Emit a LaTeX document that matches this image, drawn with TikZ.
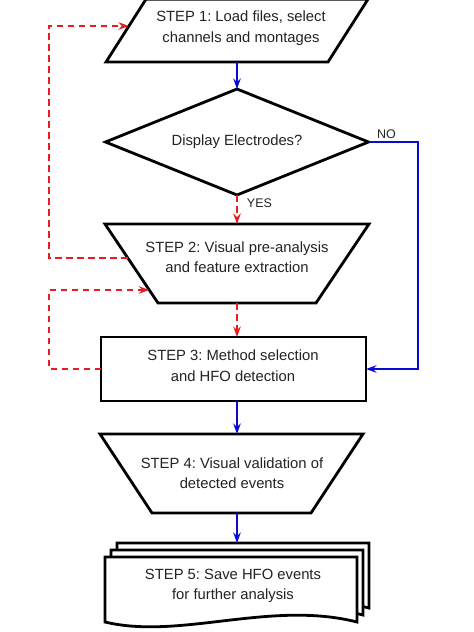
\documentclass[tikz,border=0pt]{standalone}
\usepackage{fontspec}
\setmainfont{Liberation Sans}
\frenchspacing
\usetikzlibrary{shapes.geometric,arrows.meta,calc}
\definecolor{flowred}{RGB}{232,28,32}
\definecolor{flowblue}{RGB}{10,10,215}
\definecolor{txt}{RGB}{35,35,35}
\tikzset{
  boxnode/.style={inner sep=0pt, outer sep=0pt, draw=none},
  txtnode/.style={inner sep=0pt, outer sep=0pt, align=center, text=txt, font=\fontsize{14.8}{20.5}\selectfont},
  outline/.style={draw=black, line width=2.8pt, line join=miter, fill=white},
  smalllabel/.style={inner sep=0pt, outer sep=0pt, text=txt, font=\fontsize{12.5}{14}\selectfont},
  bluearrow/.style={draw=flowblue, line width=1.8pt, -{Stealth[length=10.5pt,width=7.5pt,inset=3.5pt]}},
  redarrow/.style={draw=flowred, line width=1.8pt, dash pattern=on 6.5pt off 4.5pt, -{Stealth[length=10.5pt,width=7.5pt,inset=3.5pt]}},
}
\begin{document}
\begin{tikzpicture}[x=1pt,y=-1pt]
\useasboundingbox (0,0) rectangle (474,632);
% STEP 1 parallelogram
\node[boxnode, minimum width=262pt, minimum height=62.8pt] (s1) at (237,30.6) {};
\draw[outline] ([xshift=40pt]s1.north west) -- (s1.north east) -- ([xshift=-40pt]s1.south east) -- (s1.south west) -- cycle;
\node[txtnode] (s1t) at (241,28) {STEP 1: Load files, select\\channels and montages};
% decision
\node[diamond, outline, aspect=2.48, minimum width=263pt, minimum height=106pt, inner sep=0pt, outer sep=0pt, text=txt, font=\fontsize{14.8}{20.5}\selectfont] (d) at (237,142) {Display Electrodes?};
% STEP 2 trapezoid
\node[boxnode, minimum width=264pt, minimum height=79pt] (s2) at (237,263.5) {};
\draw[outline] (s2.north west) -- (s2.north east) -- ([xshift=-53pt]s2.south east) -- ([xshift=53pt]s2.south west) -- cycle;
\node[txtnode] (s2t) at (237,257) {STEP 2: Visual pre-analysis\\and feature extraction};
% STEP 3 rectangle
\node[boxnode, outline, minimum width=265pt, minimum height=64pt] (s3) at (233.5,369) {};
\node[txtnode] (s3t) at (233,365.5) {STEP 3: Method selection\\and HFO detection};
% STEP 4 trapezoid
\node[boxnode, minimum width=263pt, minimum height=79pt] (s4) at (231.5,473.5) {};
\draw[outline] (s4.north west) -- (s4.north east) -- ([xshift=-52pt]s4.south east) -- ([xshift=52pt]s4.south west) -- cycle;
\node[txtnode] (s4t) at (232,473) {STEP 4: Visual validation of\\detected events};
% STEP 5 multi-document
\node[boxnode, minimum width=252pt, minimum height=65pt] (doc3) at (243,575.5) {};
\node[boxnode, minimum width=252pt, minimum height=65pt] (doc2) at (237,582.5) {};
\node[boxnode, minimum width=252pt, minimum height=65pt] (doc1) at (231,589.5) {};
\foreach \n in {doc3,doc2,doc1}{
  \draw[outline] (\n.north west) -- (\n.north east) -- (\n.south east)
    .. controls +(-87,-22) and +(75,18) .. (\n.south west) -- cycle;
}
\node[txtnode] (s5t) at (233,586) {STEP 5: Save HFO events\\for further analysis};
% side points on slanted edges
\coordinate (s1L) at ($(s1.south west)!0.573!([xshift=40pt]s1.north west)$);
\coordinate (s2L) at ($(s2.north west)!0.43!([xshift=53pt]s2.south west)$);
\coordinate (s2L2) at ($(s2.north west)!0.835!([xshift=53pt]s2.south west)$);
% connectors
\draw[bluearrow] (s1.south) -- (d.north);
\draw[redarrow] (d.south) -- (s2.north);
\draw[redarrow] (s2.south) -- (s2.south |- s3.north);
\draw[bluearrow] (d.east) -- ++(49.5,0) |- (s3.east);
\draw[bluearrow] (s3.south -| d.south) -- (s4.north -| d.south);
\draw[bluearrow] (s4.south -| d.south) -- (doc3.north -| d.south);
\draw[redarrow] (s2L) -- ++(-79,0) |- (s1L);
\draw[redarrow] (s3.west) -- ++(-52,0) |- (s2L2);
% labels
\node[smalllabel] (no) at (386.5,134) {NO};
\node[smalllabel] (yes) at (259.5,203) {YES};
\end{tikzpicture}
\end{document}
